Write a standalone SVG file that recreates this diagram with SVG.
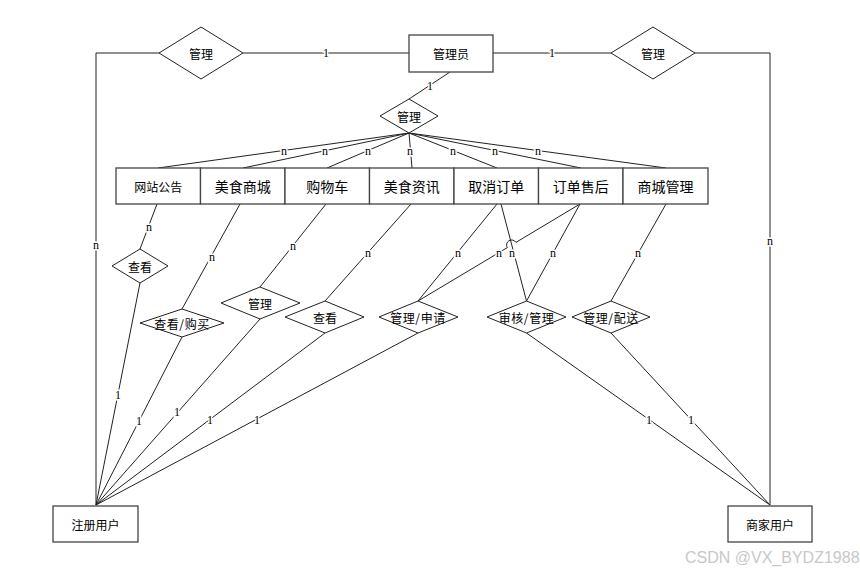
<svg xmlns="http://www.w3.org/2000/svg" width="860" height="573" viewBox="0 0 860 573">
<style>
.ent{fill:#fff;stroke:#444;stroke-width:1.3}
.rel{fill:#fff;stroke:#222;stroke-width:1}
.t{font-family:"Noto Sans CJK SC","Liberation Sans",sans-serif;font-size:12px;fill:#000;text-anchor:middle;dominant-baseline:central}
.tb{font-size:14px}
.sl{letter-spacing:0.6px}
.ln{fill:none;stroke:#222;stroke-width:1}
.lb{font-family:"Liberation Serif",serif;font-size:12px;fill:#000;text-anchor:middle;dominant-baseline:central;stroke:#fff;stroke-width:3;paint-order:stroke}
.wm{font-family:"Liberation Sans",Arial,sans-serif;font-size:16px;fill:#c8c8c8}
</style>
<rect width="860" height="573" fill="#fff"/>
<g id="connectors">
<path class="ln" d="M159,53 H96 V505"/>
<path class="ln" d="M243,53 H409"/>
<path class="ln" d="M493,53 H611"/>
<path class="ln" d="M695,53 H770 V505"/>
<path class="ln" d="M450,72 L409,99"/>
<path class="ln" d="M409,133 L158,168"/>
<path class="ln" d="M409,133 L243,168"/>
<path class="ln" d="M409,133 L327,168"/>
<path class="ln" d="M409,133 L412,168"/>
<path class="ln" d="M409,133 L497,168"/>
<path class="ln" d="M409,133 L581,168"/>
<path class="ln" d="M409,133 L666,168"/>
<path class="ln" d="M157,204 L140,249"/>
<path class="ln" d="M240,204 L182,309"/>
<path class="ln" d="M326,204 L260,287"/>
<path class="ln" d="M411,204 L325,301"/>
<path class="ln" d="M497,204 L418,301"/>
<path class="ln" d="M580,204 L515.9,242.4 A5,5 0 0 0 507.3,247.6 L418,301"/>
<path class="ln" d="M501,204 L526.5,301"/>
<path class="ln" d="M580,204 L526.5,301"/>
<path class="ln" d="M666,204 L611,301"/>
<path class="ln" d="M140,283 L96,505"/>
<path class="ln" d="M182,337 L96,505"/>
<path class="ln" d="M260,319 L96,505"/>
<path class="ln" d="M325,333 L96,505"/>
<path class="ln" d="M418,333 L96,505"/>
<path class="ln" d="M526.5,333 L770,505"/>
<path class="ln" d="M611,333 L770,505"/>
<text class="lb" x="96" y="245">n</text>
<text class="lb" x="326" y="53">1</text>
<text class="lb" x="552" y="53">1</text>
<text class="lb" x="770" y="241">n</text>
<text class="lb" x="430" y="86">1</text>
<text class="lb" x="284" y="151">n</text>
<text class="lb" x="325" y="151">n</text>
<text class="lb" x="368" y="151">n</text>
<text class="lb" x="410" y="151">n</text>
<text class="lb" x="453" y="151">n</text>
<text class="lb" x="495" y="151">n</text>
<text class="lb" x="538" y="151">n</text>
<text class="lb" x="149" y="227">n</text>
<text class="lb" x="212" y="257">n</text>
<text class="lb" x="293" y="246">n</text>
<text class="lb" x="368" y="253">n</text>
<text class="lb" x="458" y="253">n</text>
<text class="lb" x="499" y="253">n</text>
<text class="lb" x="512" y="253">n</text>
<text class="lb" x="553" y="253">n</text>
<text class="lb" x="638" y="253">n</text>
<text class="lb" x="118" y="395">1</text>
<text class="lb" x="139" y="421">1</text>
<text class="lb" x="177" y="412">1</text>
<text class="lb" x="210" y="420">1</text>
<text class="lb" x="257" y="420">1</text>
<text class="lb" x="649" y="420">1</text>
<text class="lb" x="691" y="420">1</text>
</g>
<g id="admin"><rect class="ent" x="409" y="35" width="84" height="37"/><text class="t" x="451" y="53.5">管理员</text></g>
<g id="rel-left"><polygon class="rel" points="201,27 243,53 201,79 159,53"/><text class="t" x="201" y="53">管理</text></g>
<g id="rel-right"><polygon class="rel" points="653,27 695,53 653,79 611,53"/><text class="t" x="653" y="53">管理</text></g>
<g id="rel-mid"><polygon class="rel" points="409,99 438,116 409,133 380,116"/><text class="t" x="409" y="116">管理</text></g>
<g id="e1"><rect class="ent" x="116" y="168" width="84.5" height="36"/><text class="t" x="158.3" y="186">网站公告</text></g>
<g id="e2"><rect class="ent" x="200.5" y="168" width="84.5" height="36"/><text class="t tb" x="242.8" y="186">美食商城</text></g>
<g id="e3"><rect class="ent" x="285" y="168" width="84.5" height="36"/><text class="t tb" x="327.3" y="186">购物车</text></g>
<g id="e4"><rect class="ent" x="369.5" y="168" width="84.5" height="36"/><text class="t tb" x="411.8" y="186">美食资讯</text></g>
<g id="e5"><rect class="ent" x="454" y="168" width="84.5" height="36"/><text class="t tb" x="496.3" y="186">取消订单</text></g>
<g id="e6"><rect class="ent" x="538.5" y="168" width="84.5" height="36"/><text class="t tb" x="580.8" y="186">订单售后</text></g>
<g id="e7"><rect class="ent" x="623" y="168" width="85" height="36"/><text class="t tb" x="665.5" y="186">商城管理</text></g>
<g id="r1"><polygon class="rel" points="140,249 168,266 140,283 112,266"/><text class="t" x="140" y="266">查看</text></g>
<g id="r2"><polygon class="rel" points="182,309 224,323 182,337 140,323"/><text class="t sl" x="182" y="323">查看/购买</text></g>
<g id="r3"><polygon class="rel" points="260,287 300,303 260,319 221,303"/><text class="t" x="260" y="303">管理</text></g>
<g id="r4"><polygon class="rel" points="325,301 364,317 325,333 285,317"/><text class="t" x="325" y="317">查看</text></g>
<g id="r5"><polygon class="rel" points="418,301 458,317 418,333 379,317"/><text class="t sl" x="418" y="317">管理/申请</text></g>
<g id="r6"><polygon class="rel" points="526.5,301 566,317 526.5,333 487,317"/><text class="t sl" x="526.5" y="317">审核/管理</text></g>
<g id="r7"><polygon class="rel" points="611,301 650,317 611,333 572,317"/><text class="t sl" x="611" y="317">管理/配送</text></g>
<g id="user"><rect class="ent" x="53" y="506" width="85" height="36"/><text class="t" x="95.5" y="524">注册用户</text></g>
<g id="merchant"><rect class="ent" x="728" y="506" width="84" height="36"/><text class="t" x="770" y="524">商家用户</text></g>
<text class="wm" x="685" y="563">CSDN @VX_BYDZ1988</text>
</svg>
